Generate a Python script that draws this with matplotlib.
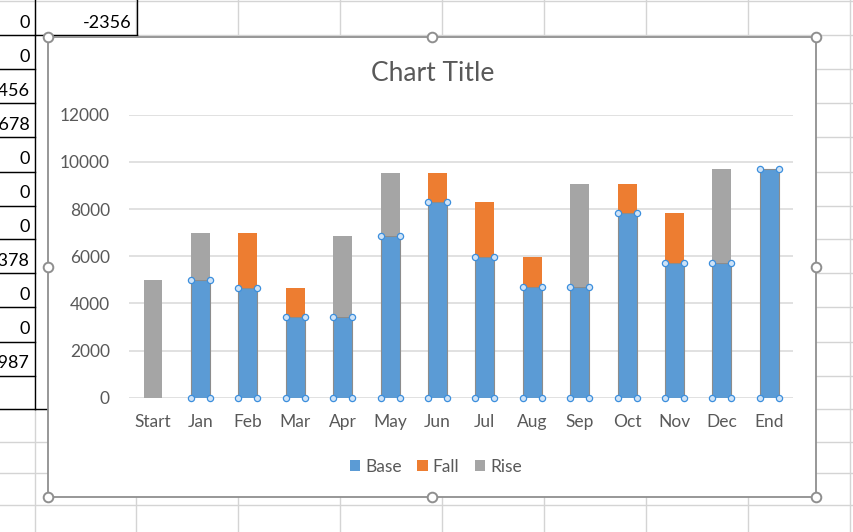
import numpy as np
import matplotlib
matplotlib.use("Agg")
import matplotlib.pyplot as plt
from matplotlib.patches import Rectangle, Patch

# ---------------- data ----------------
categories = ['Start', 'Jan', 'Feb', 'Mar', 'Apr', 'May', 'Jun',
              'Jul', 'Aug', 'Sep', 'Oct', 'Nov', 'Dec', 'End']
base = [np.nan, 5000, 4644, 3410, 3410, 6866, 8310,
        5954, 4688, 4688, 7832, 5715, 5715, 9702]
fall = [0, 0, 2356, 1234, 0, 0, 1234, 2356, 1266, 0, 1234, 2117, 0, 0]
rise = [5000, 2000, 0, 0, 3456, 2678, 0, 0, 0, 4378, 0, 0, 3987, 0]
yticks = [0, 2000, 4000, 6000, 8000, 10000, 12000]
series_names = ['Base', 'Fall', 'Rise']
colors = ['#5B9BD5', '#ED7D31', '#A5A5A5']
cell_rise_text = [str(int(v)) for v in rise[2:13]]  # spreadsheet column (Feb..Dec)
cell_change_text = '-2356'

FONT = ['Lato', 'DejaVu Sans']
plt.rcParams['font.family'] = FONT

W, H = 854, 532
fig = plt.figure(figsize=(W / 100, H / 100), dpi=100)

# ---------------- spreadsheet background (pixel coords) ----------------
bg = fig.add_axes([0, 0, 1, 1], zorder=0)
bg.set_xlim(0, W)
bg.set_ylim(H, 0)
bg.axis('off')

grid_c = '#D4D4D4'
row_lines = [1.3, 35, 69.3, 103.3, 137.3, 171.7, 205.7, 239.3, 273.3,
             307.3, 341.5, 375.5, 409.3, 441.7, 473.3, 505.3]
col_lines = [35, 136.5, 238.5, 340, 442, 544, 646, 748, 850]
for y in row_lines:
    bg.plot([0, W], [y, y], color=grid_c, lw=1, zorder=1)
for x in col_lines:
    bg.plot([x, x], [0, H], color=grid_c, lw=1, zorder=1)
# white margin left of chart where no gridlines show
bg.add_patch(Rectangle((35.5, 35.5), 13, 373.5, facecolor='white', edgecolor='none', zorder=2))

# bordered cells (black)
for y in row_lines[1:13]:
    bg.plot([0, 35], [y, y], color='black', lw=1, zorder=3)
bg.plot([35, 137], [34.5, 34.5], color='black', lw=1, zorder=3)
bg.plot([35, 48], [409.3, 409.3], color='black', lw=1, zorder=3)
bg.plot([35, 35], [0, 409.3], color='black', lw=1, zorder=3)
bg.plot([137, 137], [0, 34.5], color='black', lw=1, zorder=3)

# cell texts (partly cut at the left edge, as in the screenshot)
bottoms = row_lines[1:13]
for txt, yb in zip(cell_rise_text, bottoms):
    bg.text(29.5, yb - 7.5, txt, ha='right', va='baseline', fontsize=13,
            color='black', zorder=4)
bg.text(131.5, 35 - 7.5, cell_change_text, ha='right', va='baseline',
        fontsize=13, color='black', zorder=4)

# chart area
cx0, cy0, cx1, cy1 = 48.5, 37, 816.3, 496.7
bg.add_patch(Rectangle((cx0, cy0), cx1 - cx0, cy1 - cy0, facecolor='white',
                       edgecolor='#8F8F8F', lw=1.3, zorder=5))
hx = [cx0, (cx0 + cx1) / 2, cx1]
hy = [cy0, (cy0 + cy1) / 2, cy1]
hpts = [(x, y) for x in hx for y in hy if not (x == hx[1] and y == hy[1])]
bg.scatter([p[0] for p in hpts], [p[1] for p in hpts], s=48, facecolor='white',
           edgecolor='#8F8F8F', linewidth=1.4, zorder=6)

# ---------------- main chart ----------------
left_px, right_px, top_px, bot_px = 129.3, 793, 114.7, 397.7
ax = fig.add_axes([left_px / W, (H - bot_px) / H, (right_px - left_px) / W,
                   (bot_px - top_px) / H], zorder=1)
ax.set_facecolor('none')

x = np.arange(len(categories))
bw = 0.4
base_arr = np.array(base, dtype=float)
fall_arr = np.array(fall, dtype=float)
rise_arr = np.array(rise, dtype=float)
base0 = np.nan_to_num(base_arr)

ax.bar(x, base_arr, bw, color=colors[0], edgecolor='#8C8C8C', linewidth=0.8, zorder=3)
ax.bar(x, fall_arr, bw, bottom=base0, color=colors[1], zorder=3)
ax.bar(x, rise_arr, bw, bottom=base0 + fall_arr, color=colors[2], zorder=3)

# selection handles on base bars
valid = ~np.isnan(base_arr)
hxs, hys = [], []
for xi, b in zip(x[valid], base_arr[valid]):
    for dx in (-bw / 2, bw / 2):
        hxs += [xi + dx, xi + dx]
        hys += [0, b]
ax.scatter(hxs, hys, s=20, facecolor='#CFE3F7', edgecolor='#3C8FDD',
           linewidth=0.9, zorder=5, clip_on=False)

ax.set_xlim(-0.5, len(categories) - 0.5)
ax.set_ylim(0, 12000)
ax.set_yticks(yticks)
ax.set_yticklabels([str(v) for v in yticks])
ax.set_xticks(x)
ax.set_xticklabels(categories)
ax.yaxis.grid(True, color='#D9D9D9', lw=1.1, zorder=0)
ax.set_axisbelow(True)
for s in ax.spines.values():
    s.set_visible(False)
ax.tick_params(axis='both', length=0, labelsize=12.5, colors='#595959')
ax.tick_params(axis='y', pad=14)
ax.tick_params(axis='x', pad=12)

fig.text(432.8 / W, 1 - 81 / H, 'Chart Title', ha='center', va='baseline',
         fontsize=19, color='#595959')

handles = [Patch(facecolor=c, edgecolor='none') for c in colors]
fig.legend(handles, series_names, loc='center', bbox_to_anchor=(436 / W, 1 - 467 / H),
           ncol=3, frameon=False, fontsize=12.5, labelcolor='#595959',
           handlelength=0.58, handleheight=0.58, handletextpad=0.3,
           columnspacing=0.9, borderpad=0)

fig.savefig('out.png', dpi=100)
